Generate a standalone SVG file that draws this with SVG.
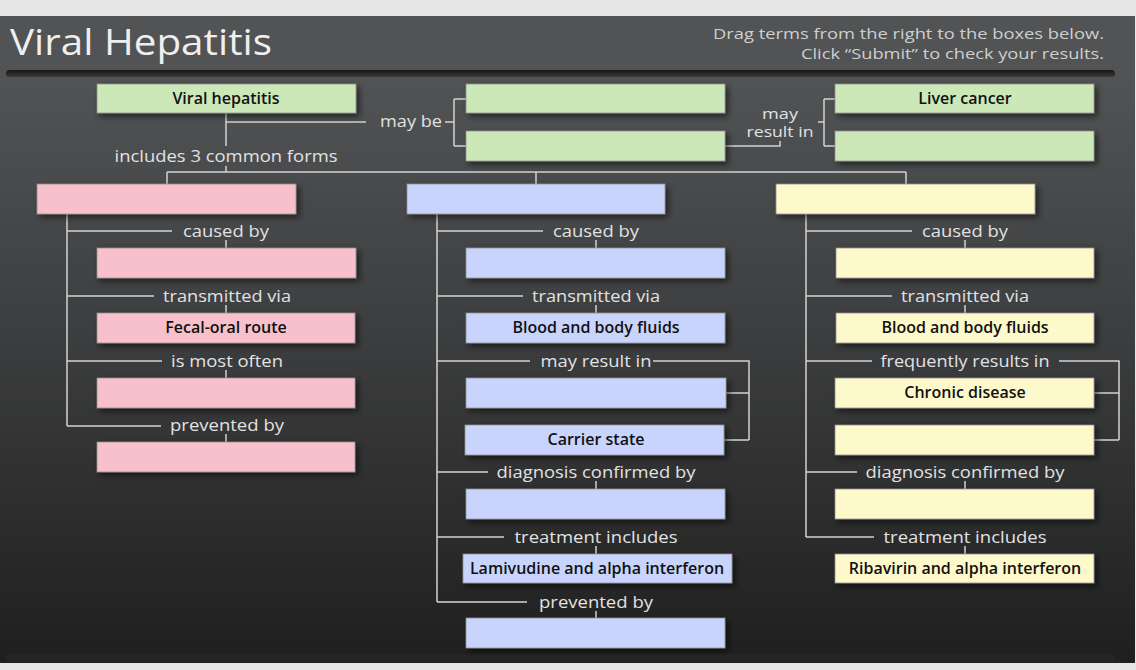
<svg xmlns="http://www.w3.org/2000/svg" width="1136" height="670" viewBox="0 0 1136 670">
<defs>
<linearGradient id="bg" x1="0" y1="0" x2="0" y2="1">
<stop offset="0" stop-color="#565859"/>
<stop offset="0.5" stop-color="#3c3d3e"/>
<stop offset="1" stop-color="#1f1f1f"/>
</linearGradient>
<linearGradient id="bar" x1="0" y1="0" x2="0" y2="1">
<stop offset="0" stop-color="#151515"/>
<stop offset="1" stop-color="#3a3a3a"/>
</linearGradient>
<filter id="sh" x="-10%" y="-30%" width="125%" height="180%">
<feDropShadow dx="3" dy="3" stdDeviation="3" flood-color="#000" flood-opacity="0.55"/>
</filter>
<style>
.lbl{font-family:"Open Sans","DejaVu Sans",sans-serif;font-size:17px;fill:#e2e2e2;text-anchor:middle}
.sm{font-size:15px}
.bt{font-family:"Open Sans","DejaVu Sans",sans-serif;font-size:16px;font-weight:600;fill:#111;text-anchor:middle}
.box{stroke:#8e8e8e;stroke-width:0.8;filter:url(#sh)}
.g{fill:#cce8b8}
.p{fill:#f7c0cb}
.b{fill:#c9d4fd}
.y{fill:#fdf9cb}
.c{fill:none;stroke:#d2d2d2;stroke-width:1.5}
</style>
</defs>
<rect x="0" y="0" width="1136" height="670" fill="#e6e6e6"/>
<rect x="0" y="16" width="1135" height="647" fill="url(#bg)"/>
<rect x="0" y="16" width="1135" height="56" fill="#515354"/>
<rect x="6" y="70" width="1109" height="7" rx="3.5" fill="url(#bar)"/>
<rect x="6" y="654" width="1109" height="8" rx="4" fill="#2a2a2a" opacity="0.6"/>
<g id="header">
<text x="10" y="55" font-family="'Open Sans','DejaVu Sans',sans-serif" font-size="37" fill="#efefef" textLength="262" lengthAdjust="spacingAndGlyphs">Viral Hepatitis</text>
<text x="1104" y="39" font-family="'Open Sans','DejaVu Sans',sans-serif" font-size="14.5" fill="#cfcfcf" text-anchor="end" textLength="391" lengthAdjust="spacingAndGlyphs">Drag terms from the right to the boxes below.</text>
<text x="1104" y="59" font-family="'Open Sans','DejaVu Sans',sans-serif" font-size="14.5" fill="#cfcfcf" text-anchor="end" textLength="303" lengthAdjust="spacingAndGlyphs">Click “Submit” to check your results.</text>
</g>
<g id="connectors">
<path class="c" d="M226 113V146M226 122H366M445 122H454M454 99V146M454 99H466M454 146H466"/>
<path class="c" d="M725 146H780V141M818 122H824M824 99V146M824 99H835M824 146H835"/>
<path class="c" d="M226 166V172M167 172H906M167 172V184M536 172V184M906 172V184"/>
<path class="c" d="M67 214V426M67 231H172M67 296H154M67 361H162M67 426H161M226 240V248M226 305V313M226 370V378M226 434V442"/>
<path class="c" d="M437 214V602M437 231H543M437 296H523M437 361H530M653 361H749V440M726 393H749M724 440H749M437 472H488M437 537H504M437 602H527M596 240V248M596 305V313M596 481V489M596 546V554M596 611V618"/>
<path class="c" d="M806 214V537M806 231H912M806 296H892M806 361H872M1059 361H1119V440M1094 393H1119M1094 440H1119M806 472H857M806 537H874M965 240V248M965 305V313M965 481V489M965 546V554"/>
</g>
<g id="labels">
<text class="lbl" x="226" y="162" textLength="223" lengthAdjust="spacingAndGlyphs">includes 3 common forms</text>
<text class="lbl" x="411" y="127" textLength="62" lengthAdjust="spacingAndGlyphs">may be</text>
<text class="lbl sm" x="780" y="119" textLength="36" lengthAdjust="spacingAndGlyphs">may</text>
<text class="lbl sm" x="780" y="137" textLength="67" lengthAdjust="spacingAndGlyphs">result in</text>
<text class="lbl" x="226" y="237" textLength="86" lengthAdjust="spacingAndGlyphs">caused by</text>
<text class="lbl" x="227" y="302" textLength="128" lengthAdjust="spacingAndGlyphs">transmitted via</text>
<text class="lbl" x="227" y="367" textLength="112" lengthAdjust="spacingAndGlyphs">is most often</text>
<text class="lbl" x="227" y="431" textLength="114" lengthAdjust="spacingAndGlyphs">prevented by</text>
<text class="lbl" x="596" y="237" textLength="86" lengthAdjust="spacingAndGlyphs">caused by</text>
<text class="lbl" x="596" y="302" textLength="128" lengthAdjust="spacingAndGlyphs">transmitted via</text>
<text class="lbl" x="596" y="367" textLength="111" lengthAdjust="spacingAndGlyphs">may result in</text>
<text class="lbl" x="596" y="478" textLength="199" lengthAdjust="spacingAndGlyphs">diagnosis confirmed by</text>
<text class="lbl" x="596" y="543" textLength="163" lengthAdjust="spacingAndGlyphs">treatment includes</text>
<text class="lbl" x="596" y="608" textLength="114" lengthAdjust="spacingAndGlyphs">prevented by</text>
<text class="lbl" x="965" y="237" textLength="86" lengthAdjust="spacingAndGlyphs">caused by</text>
<text class="lbl" x="965" y="302" textLength="128" lengthAdjust="spacingAndGlyphs">transmitted via</text>
<text class="lbl" x="965" y="367" textLength="169" lengthAdjust="spacingAndGlyphs">frequently results in</text>
<text class="lbl" x="965" y="478" textLength="199" lengthAdjust="spacingAndGlyphs">diagnosis confirmed by</text>
<text class="lbl" x="965" y="543" textLength="163" lengthAdjust="spacingAndGlyphs">treatment includes</text>
</g>
<g id="n-viral"><rect class="box g" x="97" y="84" width="259" height="29"/><text class="bt" x="226" y="104">Viral hepatitis</text></g>
<g id="n-maybe1"><rect class="box g" x="466" y="84" width="259" height="29"/></g>
<g id="n-maybe2"><rect class="box g" x="466" y="131" width="259" height="30"/></g>
<g id="n-liver"><rect class="box g" x="835" y="84" width="259" height="29"/><text class="bt" x="965" y="104">Liver cancer</text></g>
<g id="n-result2"><rect class="box g" x="835" y="131" width="259" height="30"/></g>

<g id="n-pink-head"><rect class="box p" x="37" y="184" width="259" height="30"/></g>
<g id="n-pink-cause"><rect class="box p" x="97" y="248" width="259" height="30"/></g>
<g id="n-pink-trans"><rect class="box p" x="97" y="313" width="258" height="30"/><text class="bt" x="226" y="333">Fecal-oral route</text></g>
<g id="n-pink-often"><rect class="box p" x="97" y="378" width="258" height="30"/></g>
<g id="n-pink-prev"><rect class="box p" x="97" y="442" width="258" height="30"/></g>

<g id="n-blue-head"><rect class="box b" x="407" y="184" width="258" height="30"/></g>
<g id="n-blue-cause"><rect class="box b" x="466" y="248" width="259" height="30"/></g>
<g id="n-blue-trans"><rect class="box b" x="466" y="313" width="259" height="30"/><text class="bt" x="596" y="333">Blood and body fluids</text></g>
<g id="n-blue-res1"><rect class="box b" x="466" y="378" width="260" height="30"/></g>
<g id="n-blue-carrier"><rect class="box b" x="465" y="425" width="259" height="30"/><text class="bt" x="596" y="445">Carrier state</text></g>
<g id="n-blue-diag"><rect class="box b" x="466" y="489" width="259" height="30"/></g>
<g id="n-blue-treat"><rect class="box b" x="463" y="554" width="269" height="29"/><text class="bt" x="597" y="574">Lamivudine and alpha interferon</text></g>
<g id="n-blue-prev"><rect class="box b" x="466" y="618" width="259" height="30"/></g>

<g id="n-yel-head"><rect class="box y" x="776" y="184" width="259" height="30"/></g>
<g id="n-yel-cause"><rect class="box y" x="836" y="248" width="258" height="30"/></g>
<g id="n-yel-trans"><rect class="box y" x="836" y="313" width="258" height="30"/><text class="bt" x="965" y="333">Blood and body fluids</text></g>
<g id="n-yel-chronic"><rect class="box y" x="835" y="378" width="259" height="30"/><text class="bt" x="965" y="398">Chronic disease</text></g>
<g id="n-yel-res2"><rect class="box y" x="835" y="425" width="259" height="30"/></g>
<g id="n-yel-diag"><rect class="box y" x="835" y="489" width="259" height="30"/></g>
<g id="n-yel-treat"><rect class="box y" x="835" y="554" width="259" height="29"/><text class="bt" x="965" y="574">Ribavirin and alpha interferon</text></g>
</svg>
